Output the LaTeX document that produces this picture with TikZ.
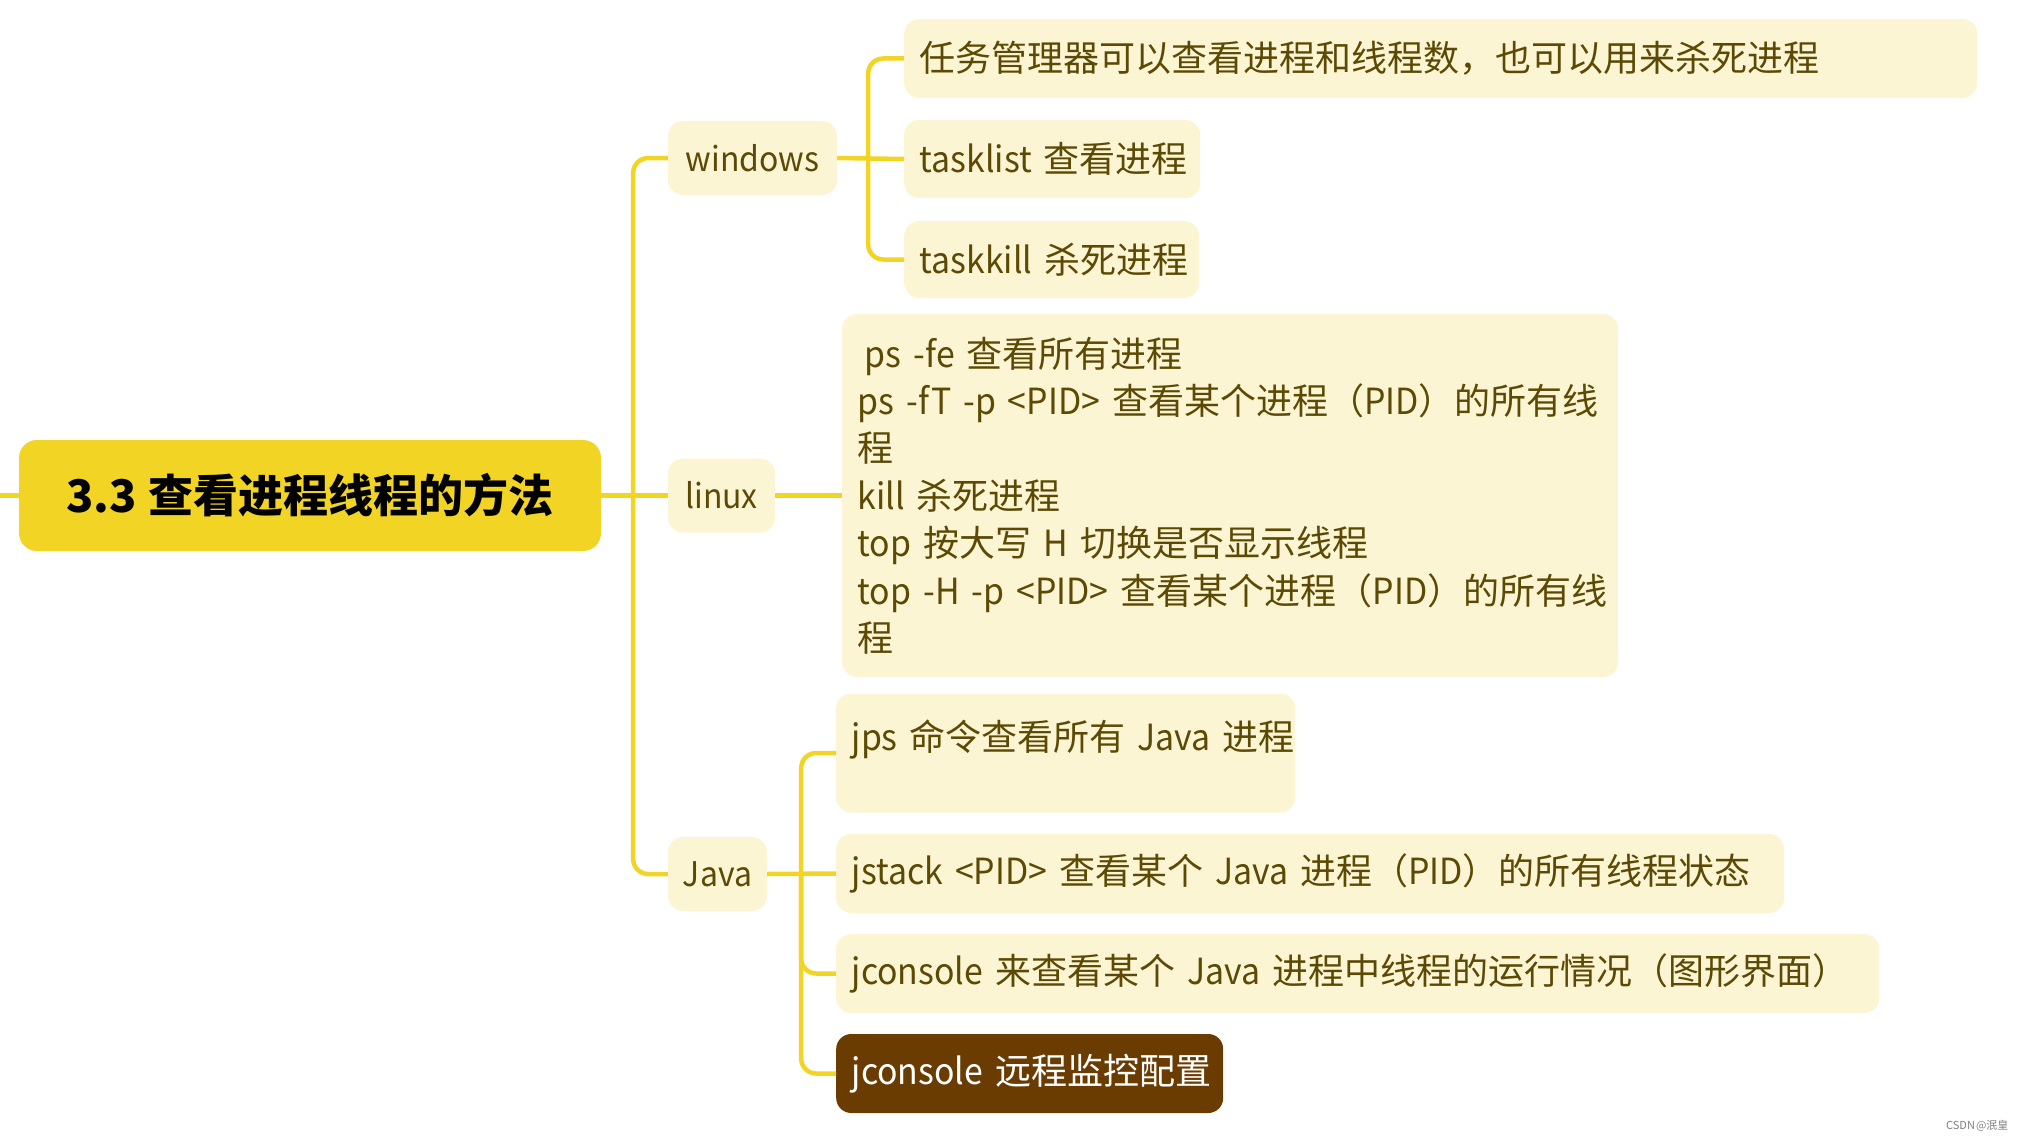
\documentclass[tikz,border=0pt]{standalone}
\usepackage{fontspec}
\setmainfont[WordSpace=0.45]{Noto Sans CJK SC}
\newfontfamily\latfont[FakeStretch=0.94,WordSpace=0.45]{Noto Sans CJK SC}
\newcommand\lt[1]{{\latfont #1}}
\definecolor{rootyellow}{RGB}{242,212,36}
\definecolor{linecol}{RGB}{242,212,36}
\definecolor{cream}{RGB}{252,245,212}
\definecolor{olive}{RGB}{92,74,4}
\definecolor{brownbox}{RGB}{107,60,2}
\begin{document}
\begin{tikzpicture}[x=1pt,y=-1pt,
  rootbox/.style={fill=rootyellow, rounded corners=18pt, inner sep=0pt,
    font=\fontsize{45}{54}\selectfont\bfseries, text=black,
    minimum width=582pt, minimum height=111pt},
  midbox/.style={fill=cream, rounded corners=15pt, inner sep=0pt,
    font=\fontsize{34}{42}\selectfont, text=olive},
  leafbox/.style={fill=cream, rounded corners=15pt, inner xsep=15.5pt, inner ysep=0pt,
    font=\fontsize{36}{47.4}\selectfont, text=olive, align=left, anchor=west},
  darkleaf/.style={leafbox, fill=brownbox, text=white},
  conn/.style={draw=linecol, line width=4.5pt, rounded corners=15pt}
]
\useasboundingbox (0,0) rectangle (2025,1140);

% root
\node[rootbox] (root) at (310,495.5) {3.3\hspace{0.25em}查看进程线程的方法};
\coordinate (stub) at (0,495.5);

% second level
\node[midbox, minimum width=169pt, minimum height=74pt] (windows) at (752.5,158) {\lt{windows}};
\node[midbox, minimum width=107pt, minimum height=74pt] (linux) at (721.5,495.5) {\lt{linux}};
\node[midbox, minimum width=99pt, minimum height=74pt] (java) at (717.5,874) {\lt{Java}};

% windows leaves
\node[leafbox, text width=1042pt, minimum height=79pt] (w1) at (904,58.5) {\mbox{任务管理器可以查看进程和线程数，也可以用来杀死进程}};
\node[leafbox, text width=265pt, minimum height=78pt] (w2) at (904,159) {\mbox{\lt{tasklist} 查看进程}};
\node[leafbox, text width=264pt, minimum height=77pt] (w3) at (904,259.5) {\mbox{\lt{taskkill} 杀死进程}};

% linux leaf
\node[leafbox, text width=745pt, minimum height=363pt] (l1) at (842,495.5) {%
\mbox{\hspace{0.2em}\lt{ps -fe} 查看所有进程}\\
\mbox{\lt{ps -fT -p <PID>} 查看某个进程（\lt{PID}）的所有线}\\
\mbox{程}\\
\mbox{\lt{kill} 杀死进程}\\
\mbox{\lt{top} 按大写 \lt{H} 切换是否显示线程}\\
\mbox{\lt{top -H -p <PID>} 查看某个进程（\lt{PID}）的所有线}\\
\mbox{程}};

% java leaves
\node[leafbox, text width=428pt, minimum height=119pt] (j1) at (836,753) {\mbox{\lt{jps} 命令查看所有 \lt{Java} 进程}\\[-11pt]\mbox{}};
\node[leafbox, text width=917pt, minimum height=79pt] (j2) at (836,873.5) {\mbox{\lt{jstack <PID>} 查看某个 \lt{Java} 进程（\lt{PID}）的所有线程状态}};
\node[leafbox, text width=1012pt, minimum height=79pt] (j3) at (836,973.5) {\mbox{\lt{jconsole} 来查看某个 \lt{Java} 进程中线程的运行情况（图形界面）}};
\node[darkleaf, text width=356pt, minimum height=79pt] (j4) at (836,1073.5) {\mbox{\lt{jconsole} 远程监控配置}};

% watermark
\node[font=\fontsize{11}{13}\selectfont, text=gray, anchor=east] (wm) at (2012,1126) {CSDN @泯皇};

% connectors: root
\draw[conn] (stub) -- (root.west);
\draw[conn] (root.east) -- (linux.west);
\coordinate (t1) at ([xshift=32pt]root.east);
\draw[conn] (t1) |- (windows.west);
\draw[conn] (t1) |- (java.west);

% windows
\coordinate (t2) at ([xshift=31pt]windows.east);
\draw[conn] (windows.east) -- (w2.west);
\draw[conn] (t2) |- (w1.west);
\draw[conn] (t2) |- (w3.west);

% linux
\draw[conn] (linux.east) -- (l1.west);

% java
\coordinate (t3) at ([xshift=34pt]java.east);
\draw[conn] (java.east) -- (j2.west);
\draw[conn] (t3) |- (j1.west);
\draw[conn] (t3) |- (j3.west);
\draw[conn] (t3) |- (j4.west);
\end{tikzpicture}
\end{document}
